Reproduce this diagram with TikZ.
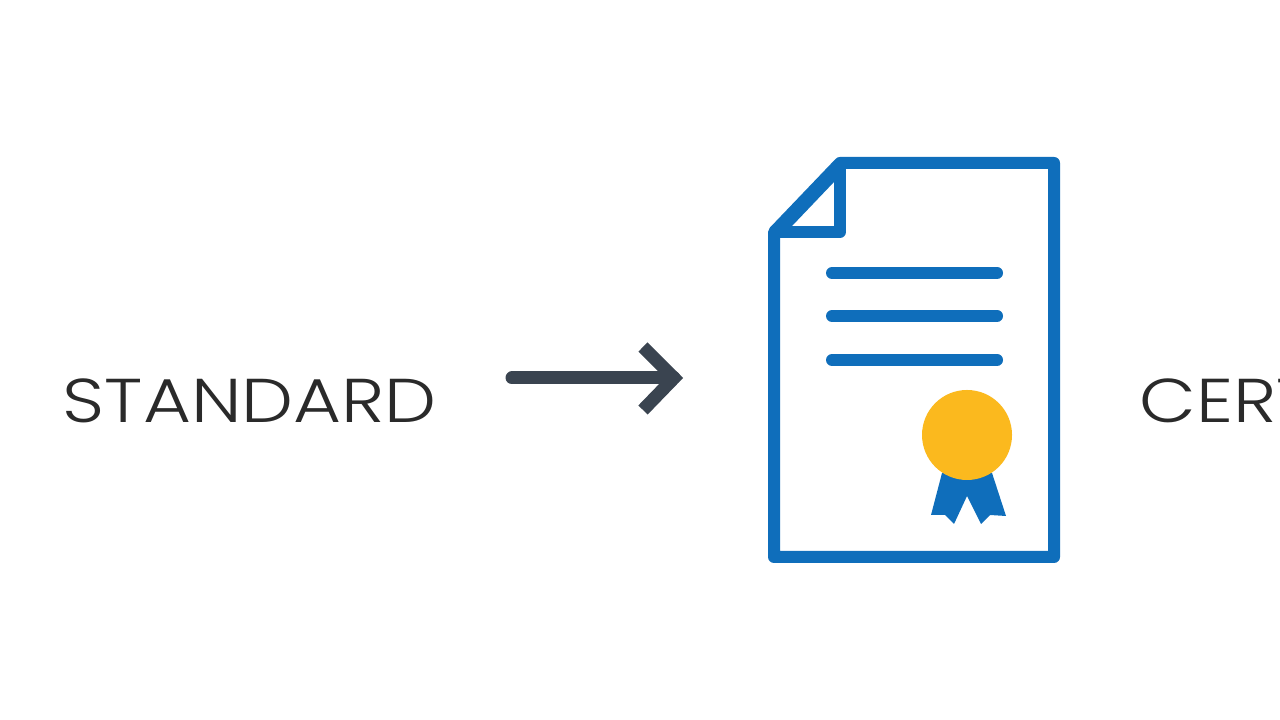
\documentclass[tikz,border=0pt]{standalone}
\usepackage{fontspec}
\setmainfont{Poppins}[UprightFont=* Light,FakeStretch=1.19]
\definecolor{docblue}{HTML}{0F6EBB}
\definecolor{arrowgray}{HTML}{3A4450}
\definecolor{sealgold}{HTML}{FBB91E}
\definecolor{labelgray}{HTML}{2A2A2A}
\tikzset{
  docline/.style={draw=docblue,line width=1.2mm,line join=round},
  textline/.style={draw=docblue,line width=1.2mm,line cap=round},
  arrowline/.style={draw=arrowgray,line width=1.3mm},
  label/.style={text=labelgray,font=\fontsize{17.6}{21}\selectfont,inner sep=0pt,anchor=base west}
}
\begin{document}
\begin{tikzpicture}
\clip (0,0) rectangle (12.8,7.2);
\fill[white] (0,0) rectangle (12.8,7.2);

% The two labels
\node[label] (standard) at (0.62,2.97) {STANDARD};
\node[label] (cert) at (11.39,2.97) {CERT};

% The arrow
\coordinate (arrowstart) at (5.12,3.42);
\coordinate (arrowtip) at (6.74,3.42);
\draw[arrowline,line cap=round] (arrowstart) -- (arrowtip);
\draw[arrowline] (6.43,3.73) -- (arrowtip) -- (6.43,3.10);

% The sheet with its folded corner
\draw[docline] (8.40,5.57) -- (10.54,5.57) -- (10.54,1.63) -- (7.74,1.63) -- (7.74,4.88) -- cycle;
\draw[docline] (8.40,5.57) -- (8.40,4.88) -- (7.74,4.88);
\draw[docline] (7.78,4.88) -- (8.40,5.53);

% The lines of text
\draw[textline] (8.32,4.47) -- (9.97,4.47);
\draw[textline] (8.32,4.04) -- (9.97,4.04);
\draw[textline] (8.32,3.60) -- (9.97,3.60);

% The ribbon and the seal
\fill[docblue] (9.42,2.47) -- (9.31,2.05) -- (9.45,2.05) -- (9.54,1.96) -- (9.67,2.24)
  -- (9.81,1.96) -- (9.90,2.05) -- (10.06,2.04) -- (9.92,2.47) -- cycle;
\fill[sealgold] (9.67,2.85) circle (0.45);
\end{tikzpicture}
\end{document}
